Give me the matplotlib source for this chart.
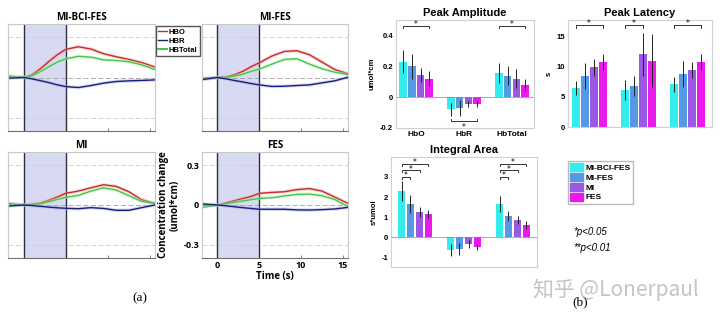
import numpy as np
import matplotlib.pyplot as plt
from matplotlib.patches import Patch
from matplotlib.lines import Line2D

W, H = 722, 324

# ---- (a) time courses ----
t = [-1.8, 0, 1, 2, 3, 4, 5, 6.5, 8, 9.5, 11, 12.5, 14, 15.6]

hbo_mibcifes = [0.01, 0, 0.02, 0.065, 0.12, 0.17, 0.21, 0.23, 0.213, 0.178, 0.155, 0.135, 0.112, 0.078]
hbt_mibcifes = [0.01, 0, 0.013, 0.045, 0.08, 0.115, 0.14, 0.158, 0.152, 0.132, 0.127, 0.118, 0.095, 0.06]
hbr_mibcifes = [-0.005, 0, -0.01, -0.024, -0.038, -0.055, -0.068, -0.075, -0.06, -0.042, -0.03, -0.025, -0.022, -0.018]

hbo_mifes = [-0.01, 0, 0.004, 0.02, 0.045, 0.08, 0.11, 0.16, 0.195, 0.2, 0.17, 0.115, 0.06, 0.028]
hbt_mifes = [-0.005, 0, 0.001, 0.01, 0.025, 0.045, 0.063, 0.1, 0.135, 0.14, 0.1, 0.065, 0.04, 0.022]
hbr_mifes = [-0.015, 0, -0.01, -0.022, -0.033, -0.045, -0.055, -0.067, -0.065, -0.06, -0.055, -0.04, -0.025, 0.002]

hbo_mi = [0.012, 0, 0.005, 0.015, 0.035, 0.06, 0.088, 0.105, 0.13, 0.153, 0.14, 0.1, 0.04, 0.012]
hbt_mi = [0.005, 0, 0.004, 0.01, 0.025, 0.042, 0.058, 0.073, 0.105, 0.13, 0.113, 0.07, 0.028, 0.012]
hbr_mi = [-0.008, 0, -0.004, -0.01, -0.016, -0.021, -0.025, -0.028, -0.02, -0.026, -0.04, -0.04, -0.02, 0]

hbo_fes = [0, 0, 0.016, 0.032, 0.048, 0.064, 0.088, 0.095, 0.1, 0.116, 0.124, 0.105, 0.06, 0.012]
hbt_fes = [-0.018, 0, 0.01, 0.02, 0.03, 0.04, 0.05, 0.055, 0.068, 0.08, 0.082, 0.07, 0.042, -0.012]
hbr_fes = [0.008, 0, -0.006, -0.013, -0.02, -0.026, -0.032, -0.032, -0.032, -0.037, -0.038, -0.035, -0.03, -0.018]

# ---- (b) bar data: rows = chromophore, cols = condition ----
conditions = ['MI-BCI-FES', 'MI-FES', 'MI', 'FES']
chromo = ['HbO', 'HbR', 'HbTotal']

amp_mean = [[0.23, 0.20, 0.145, 0.12], [-0.08, -0.07, -0.045, -0.045], [0.155, 0.14, 0.12, 0.08]]
amp_err = [[0.075, 0.08, 0.045, 0.05], [0.045, 0.05, 0.02, 0.018], [0.065, 0.06, 0.06, 0.04]]
lat_mean = [[6.5, 8.5, 9.9, 10.8], [6.2, 6.8, 12.1, 11.0], [7.1, 8.8, 9.5, 10.8]]
lat_err = [[1.1, 2.2, 1.35, 1.3], [1.65, 1.65, 3.6, 4.4], [1.3, 2.2, 1.35, 1.3]]
area_mean = [[2.3, 1.65, 1.25, 1.15], [-0.65, -0.6, -0.35, -0.5], [1.65, 1.05, 0.85, 0.6]]
area_err = [[0.5, 0.45, 0.25, 0.2], [0.3, 0.3, 0.2, 0.15], [0.38, 0.23, 0.22, 0.18]]

# significance: (chromophore, cond a, cond b, height)
amp_sig = [(0, 0, 3, 0.46), (1, 0, 3, -0.155), (2, 0, 3, 0.46)]
lat_sig = [(0, 0, 3, 17.0), (1, 0, 2, 17.0), (2, 0, 3, 17.0)]
area_sig = [(0, 0, 1, 3.0), (0, 0, 2, 3.33), (0, 0, 3, 3.66),
            (2, 0, 1, 3.0), (2, 0, 2, 3.33), (2, 0, 3, 3.66)]

bar_colors = ['#35ecec', '#5598e4', '#9a58e4', '#ea1aea']
HDR = ['Open Sans']
ARIAL = ['Liberation Sans']

fig = plt.figure(figsize=(W / 100, H / 100), dpi=100)


def px(x0, y0, x1, y1):
    return [x0 / W, 1 - y1 / H, (x1 - x0) / W, (y1 - y0) / H]


def ts_panel(rect, title, hbo, hbr, hbt, labels=False):
    ax = fig.add_axes(px(*rect))
    ax.axvspan(0, 5, color='#d8daf3', lw=0)
    for yv in (0.3, -0.3):
        ax.axhline(yv, color='#cfcfcf', lw=0.6, ls=(0, (6, 3)))
    ax.axhline(0, color='#a0a0a0', lw=0.6, ls=(0, (6, 3)))
    ax.axvline(0, color='#2c2e40', lw=1)
    ax.axvline(5, color='#2c2e40', lw=1)
    for s, c, halo in ((hbo, '#c92a2a', '#f3a9a9'), (hbt, '#45c845', '#b6ecb6'), (hbr, '#1b1e78', '#a9aee2')):
        ax.plot(t, s, color=halo, lw=2.5, alpha=0.45, solid_capstyle='round')
        ax.plot(t, s, color=c, lw=1)
    ax.set_xlim(-1.85, 15.6)
    ax.set_ylim(-0.4, 0.4)
    ax.set_xticks([0, 5, 10, 15])
    ax.set_yticks([-0.3, 0, 0.3])
    for sp in ax.spines.values():
        sp.set_color('#c8c8c8')
        sp.set_linewidth(0.8)
    ax.spines['bottom'].set_color('#707070')
    ax.tick_params(length=2, width=0.6, color='#707070', direction='in', pad=2,
                   labelsize=6.5)
    ax.tick_params(axis='y', length=0)
    ax.set_title(title, fontsize=7, fontweight='bold', family=HDR, pad=3)
    if labels:
        ax.set_yticklabels(['-0.3', '0', '0.3'], family=HDR, fontweight='bold')
        ax.set_xticklabels(['0', '5', '10', '15'], family=HDR, fontweight='bold')
        ax.set_xlabel('Time (s)', fontsize=7, fontweight='bold', family=HDR, labelpad=1)
        ax.set_ylabel('Concentration change\n(umol*cm)', fontsize=7, fontweight='bold',
                      family=HDR, labelpad=2, linespacing=1.1)
    else:
        ax.set_xticklabels([])
        ax.set_yticklabels([])
    return ax


ts_panel((8, 24, 155, 131), 'MI-BCI-FES', hbo_mibcifes, hbr_mibcifes, hbt_mibcifes)
ts_panel((202, 24, 348, 131), 'MI-FES', hbo_mifes, hbr_mifes, hbt_mifes)
ts_panel((8, 152, 155, 258), 'MI', hbo_mi, hbr_mi, hbt_mi)
ts_panel((202, 152, 348, 258), 'FES', hbo_fes, hbr_fes, hbt_fes, labels=True)

leg_a = [Line2D([], [], color='#c92a2a', lw=1), Line2D([], [], color='#1b1e78', lw=1),
         Line2D([], [], color='#45c845', lw=1.5)]
fig.legend(leg_a, ['HBO', 'HBR', 'HBTotal'], loc='upper left', bbox_to_anchor=(156 / W, 1 - 26 / H),
           frameon=True, fancybox=False, edgecolor='#555555', framealpha=1,
           prop={'family': ARIAL, 'weight': 'bold', 'size': 5.5},
           handlelength=1.1, handletextpad=0.3, labelspacing=0.25, borderpad=0.3,
           borderaxespad=0)
fig.text(140 / W, 1 - 298 / H, '(a)', family=['Liberation Serif'], fontsize=9.5, ha='center', va='center')

offsets = [-0.275, -0.092, 0.092, 0.275]


def bar_panel(rect, title, mean, err, sig, ylim, yticks, yticklabels, ylabel, xlim,
              tick_h, xlabels=True, star_dy=1.0):
    ax = fig.add_axes(px(*rect))
    x = np.arange(1, len(chromo) + 1)
    for j, c in enumerate(conditions):
        ax.bar(x + offsets[j], [m[j] for m in mean], width=0.16, color=bar_colors[j],
               yerr=[e[j] for e in err], error_kw=dict(ecolor='#222222', elinewidth=0.7, capsize=0))
    for g, a, b, y in sig:
        xa, xb = x[g] + offsets[a], x[g] + offsets[b]
        d = -tick_h if y > 0 else tick_h
        ax.plot([xa, xa, xb, xb], [y + d, y, y, y + d], color='#333333', lw=0.7)
        ax.annotate('*', ((xa + xb) / 2, y), xytext=(0, star_dy if y > 0 else -4.5),
                    textcoords='offset points', ha='center', va='center', fontsize=5.5)
    ax.axhline(0, color='#888888', lw=0.5)
    ax.set_xlim(*xlim)
    ax.set_ylim(*ylim)
    ax.set_yticks(yticks)
    ax.set_yticklabels(yticklabels, family=ARIAL, fontweight='bold', fontsize=5.5)
    ax.set_xticks(x)
    if xlabels:
        ax.set_xticklabels(chromo, family=ARIAL, fontweight='bold', fontsize=6)
    else:
        ax.set_xticklabels([])
    ax.tick_params(length=0, pad=2)
    for sp in ax.spines.values():
        sp.set_color('#d0d0d0')
        sp.set_linewidth(0.8)
    ax.set_title(title, family=ARIAL, fontweight='bold', fontsize=8, pad=3)
    ax.set_ylabel(ylabel, family=ARIAL, fontweight='bold', fontsize=5.5, labelpad=3)
    return ax


bar_panel((396, 20, 534, 128), 'Peak Amplitude', amp_mean, amp_err, amp_sig, (-0.2, 0.5),
          [-0.2, 0, 0.2, 0.4], ['-0.2', '0', '0.2', '0.4'], 'umol*cm', (0.58, 3.46), 0.015)
bar_panel((568, 20, 712, 127), 'Peak Latency', lat_mean, lat_err, lat_sig, (0, 17.8),
          [0, 5, 10, 15], ['0', '5', '10', '15'], 's', (0.57, 3.5), 0.5, xlabels=False)
bar_panel((391, 157, 537, 267), 'Integral Area', area_mean, area_err, area_sig, (-1.5, 4),
          [-1, 0, 1, 2, 3], ['-1', '0', '1', '2', '3'], 's*umol', (0.51, 3.49), 0.1, xlabels=False)

leg_b = [Patch(color=c) for c in bar_colors]
fig.legend(leg_b, conditions, loc='upper left', bbox_to_anchor=(568 / W, 1 - 161 / H),
           frameon=True, fancybox=False, edgecolor='#bbbbbb', framealpha=1,
           prop={'family': ARIAL, 'weight': 'bold', 'size': 6},
           handlelength=1.6, handleheight=1.1, handletextpad=0.3, labelspacing=0.12,
           borderpad=0.25, borderaxespad=0)

fig.text(573 / W, 1 - 232 / H, '*p<0.05', family=ARIAL, style='italic', fontsize=7, va='center')
fig.text(573 / W, 1 - 248 / H, '**p<0.01', family=ARIAL, style='italic', fontsize=7, va='center')
fig.text(616 / W, 1 - 290 / H, '知乎 @Lonerpaul', family=['Noto Sans CJK SC', 'DejaVu Sans'],
         fontsize=15, color='#c4c4c4', ha='center', va='center')
fig.text(580 / W, 1 - 302 / H, '(b)', family=['Liberation Serif'], fontsize=9.5, ha='center', va='center')

fig.savefig('out.png', dpi=100)
